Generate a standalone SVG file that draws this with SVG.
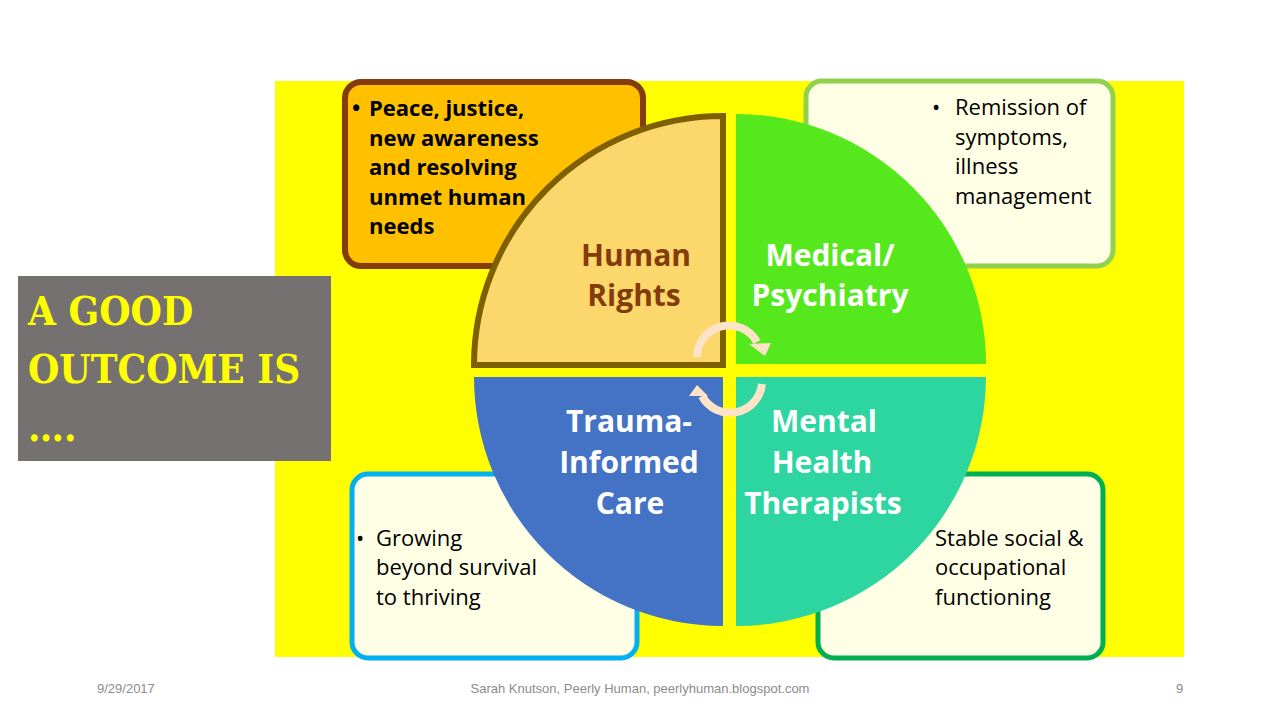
<svg xmlns="http://www.w3.org/2000/svg" width="1280" height="720" viewBox="0 0 1280 720">
<defs>
<style>
.t{font-family:"Open Sans","Noto Sans",sans-serif;font-size:22px}
.q{font-family:"Open Sans","Noto Sans",sans-serif;font-size:30px;font-weight:bold;fill:#fff;text-anchor:middle}
.f{font-family:"Liberation Sans",sans-serif;font-size:13px;fill:#8c8c8c}
.h{font-family:"DejaVu Serif Condensed","DejaVu Serif",serif;font-stretch:condensed;font-weight:bold;font-size:40px;fill:#ffff00}
</style>
</defs>
<rect width="1280" height="720" fill="#fff"/>
<rect x="275" y="81" width="909" height="576" fill="#ffff00"/>
<g id="box-tl"><rect x="345" y="82" width="298" height="184" rx="16" fill="#ffc000" stroke="#843c0c" stroke-width="6"/>
<text class="t" font-weight="bold" fill="#000"><tspan x="352" y="116">•</tspan><tspan x="369" y="116">Peace, justice,</tspan><tspan x="369" y="146">new awareness</tspan><tspan x="369" y="175">and resolving</tspan><tspan x="369" y="205">unmet human</tspan><tspan x="369" y="234">needs</tspan></text></g>
<g id="box-tr"><rect x="806" y="81" width="307" height="185" rx="16" fill="#ffffe5" stroke="#92d050" stroke-width="5"/>
<text class="t"><tspan x="932" y="115">•</tspan><tspan x="955" y="115">Remission of</tspan><tspan x="955" y="145">symptoms,</tspan><tspan x="955" y="174">illness</tspan><tspan x="955" y="204">management</tspan></text></g>
<g id="box-bl"><rect x="352" y="474" width="285" height="184" rx="16" fill="#ffffe5" stroke="#00b0f0" stroke-width="5"/>
<text class="t"><tspan x="356" y="546">•</tspan><tspan x="376" y="546">Growing</tspan><tspan x="376" y="575">beyond survival</tspan><tspan x="376" y="605">to thriving</tspan></text></g>
<g id="box-br"><rect x="818" y="474" width="285" height="184" rx="16" fill="#ffffe5" stroke="#00b050" stroke-width="5"/>
<text class="t"><tspan x="935" y="546">Stable social &amp;</tspan><tspan x="935" y="575">occupational</tspan><tspan x="935" y="605">functioning</tspan></text></g>
<g id="q-hr"><path d="M723,116 L723,365 L474,365 A249,249 0 0 1 723,116 Z" fill="#fcd76b" stroke="#7f6000" stroke-width="6"/>
<text class="q" style="fill:#843c0c"><tspan x="636" y="266">Human</tspan><tspan x="634" y="306">Rights</tspan></text></g>
<g id="q-med"><path d="M736,114 A250,250 0 0 1 986,364 L736,364 Z" fill="#55e81c"/>
<text class="q"><tspan x="830" y="266">Medical/</tspan><tspan x="830" y="306">Psychiatry</tspan></text></g>
<g id="q-tic"><path d="M723,377 L723,626 A249,249 0 0 1 474,377 Z" fill="#4472c4"/>
<text class="q"><tspan x="629" y="432">Trauma-</tspan><tspan x="629" y="473">Informed</tspan><tspan x="630" y="514">Care</tspan></text></g>
<g id="q-mht"><path d="M736,377 L986,377 A250,250 0 0 1 736,626 Z" fill="#2dd5a0"/>
<text class="q"><tspan x="824" y="432">Mental</tspan><tspan x="822" y="473">Health</tspan><tspan x="823" y="514">Therapists</tspan></text></g>
<g id="connectors">
<path d="M697,357 A32,32 0 0 1 757,342" fill="none" stroke="#fde3c8" stroke-width="8"/>
<polygon points="749,344 771,343 765,356" fill="#fde3c8"/>
<path d="M762,384 A32,32 0 0 1 702,396" fill="none" stroke="#fde3c8" stroke-width="8"/>
<polygon points="689,396 708,396 697,385" fill="#fde3c8"/>
</g>
<g id="title"><rect x="18" y="276" width="313" height="185" fill="#767171"/>
<text class="h"><tspan x="28" y="325">A GOOD</tspan><tspan x="28" y="383">OUTCOME IS</tspan><tspan x="28" y="441">….</tspan></text></g>
<text class="f" x="97" y="693">9/29/2017</text>
<text class="f" x="640" y="693" text-anchor="middle">Sarah Knutson, Peerly Human, peerlyhuman.blogspot.com</text>
<text class="f" x="1176" y="693">9</text>
</svg>
